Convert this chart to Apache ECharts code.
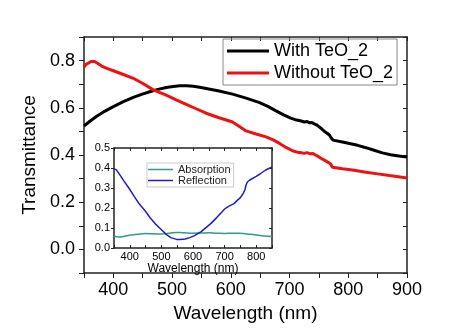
<!doctype html>
<html>
<head>
<meta charset="utf-8">
<title>Transmittance</title>
<style>
  html, body { margin: 0; padding: 0; background: #fff; }
  #main { width: 474px; height: 328px; }
</style>
</head>
<body>
<div id="main"></div>
<script src="https://cdn.jsdelivr.net/npm/echarts@6/dist/echarts.min.js"></script>
<script>
// main plot: transmittance
var wlWith = [350, 360, 371, 385, 400, 417, 434, 448, 462, 476, 490, 502, 513, 525, 536, 547, 558, 580, 603, 626, 649, 663, 677, 690, 702, 712, 720, 725, 730, 734, 738, 742, 746, 750, 755, 760, 764, 768, 771, 774, 790, 802, 816, 830, 844, 858, 872, 886, 900];
var tWith = [0.523, 0.543, 0.563, 0.585, 0.605, 0.626, 0.644, 0.657, 0.668, 0.678, 0.686, 0.690, 0.693, 0.693, 0.691, 0.687, 0.682, 0.671, 0.658, 0.641, 0.622, 0.606, 0.587, 0.570, 0.556, 0.548, 0.544, 0.540, 0.542, 0.536, 0.538, 0.532, 0.528, 0.520, 0.510, 0.499, 0.492, 0.484, 0.472, 0.463, 0.455, 0.449, 0.441, 0.431, 0.420, 0.409, 0.401, 0.396, 0.391];

var wlWithout = [350, 353, 356, 362, 368, 373, 380, 390, 400, 417, 434, 451, 468, 490, 507, 524, 541, 558, 580, 603, 614, 626, 643, 660, 672, 683, 694, 705, 713, 720, 725, 730, 735, 740, 745, 750, 755, 760, 765, 770, 773, 790, 810, 830, 850, 870, 885, 900];
var tWithout = [0.772, 0.783, 0.790, 0.796, 0.796, 0.789, 0.777, 0.766, 0.757, 0.741, 0.725, 0.702, 0.676, 0.654, 0.634, 0.615, 0.596, 0.577, 0.558, 0.540, 0.522, 0.502, 0.489, 0.477, 0.464, 0.449, 0.432, 0.418, 0.412, 0.410, 0.407, 0.410, 0.405, 0.406, 0.399, 0.392, 0.384, 0.377, 0.370, 0.362, 0.348, 0.342, 0.335, 0.327, 0.320, 0.313, 0.308, 0.303];

// inset: absorption / reflection
var wlRefl = [350, 357, 366, 380, 397, 414, 429, 449, 465, 480, 501, 515, 530, 548, 560, 575, 590, 605, 626, 642, 657, 675, 690, 700, 710, 715, 720, 725, 730, 735, 740, 750, 758, 764, 768, 772, 780, 800, 812, 830, 850];
var refl = [0.395, 0.392, 0.372, 0.338, 0.300, 0.258, 0.222, 0.185, 0.150, 0.122, 0.090, 0.068, 0.052, 0.043, 0.042, 0.045, 0.052, 0.062, 0.082, 0.103, 0.123, 0.152, 0.178, 0.195, 0.206, 0.212, 0.214, 0.220, 0.222, 0.230, 0.238, 0.252, 0.270, 0.290, 0.315, 0.330, 0.340, 0.358, 0.370, 0.390, 0.405];

var wlAbs = [350, 365, 380, 400, 425, 450, 475, 500, 525, 548, 570, 600, 625, 650, 675, 700, 725, 745, 770, 800, 825, 850];
var absorp = [0.060, 0.055, 0.058, 0.064, 0.069, 0.072, 0.071, 0.070, 0.074, 0.078, 0.076, 0.074, 0.075, 0.076, 0.074, 0.073, 0.074, 0.074, 0.070, 0.065, 0.060, 0.057];

function pairs(xs, ys) {
  var out = [];
  for (var i = 0; i < xs.length; i++) out.push([xs[i], ys[i]]);
  return out;
}

var font = 'Liberation Sans, Arial, sans-serif';
var frame = { show: true, onZero: false, lineStyle: { color: '#222', width: 1.5 } };

var chart = echarts.init(document.getElementById('main'));

var option = {
  animation: false,
  textStyle: { fontFamily: font, color: '#000' },
  grid: [
    { left: 84, top: 37, width: 323, height: 236 },
    { left: 114, top: 148, width: 158, height: 100, show: true, backgroundColor: '#fff', borderWidth: 0, z: 5 }
  ],
  legend: [
    {
      data: ['With TeO_2', 'Without TeO_2'],
      orient: 'vertical', left: 223, top: 39,
      padding: [3, 4, 3, 4], itemGap: 4,
      icon: 'rect', itemWidth: 42, itemHeight: 3,
      borderColor: '#888', borderWidth: 1,
      textStyle: { fontSize: 18, fontFamily: font, color: '#000' }
    },
    {
      data: ['Absorption', 'Reflection'],
      orient: 'vertical', left: 147, top: 163,
      padding: [1, 3, 1, 1], itemGap: 0,
      icon: 'rect', itemWidth: 25, itemHeight: 1.5,
      borderColor: '#ccc', borderWidth: 1,
      textStyle: { fontSize: 11, fontFamily: font, color: '#222' },
      z: 10
    }
  ],
  xAxis: [
    {
      gridIndex: 0, type: 'value', min: 350, max: 900, interval: 50,
      name: 'Wavelength (nm)', nameLocation: 'middle', nameGap: 29,
      nameTextStyle: { fontSize: 19, fontFamily: font, color: '#000' },
      axisLine: frame,
      axisTick: { show: true, inside: false, length: 5, lineStyle: { color: '#222' } },
      axisLabel: {
        fontSize: 18, margin: 8, color: '#000',
        formatter: function (v) { return v % 100 === 0 ? String(v) : ''; }
      },
      splitLine: { show: false }
    },
    {
      gridIndex: 0, type: 'value', position: 'top', min: 350, max: 900, interval: 50,
      axisLine: frame,
      axisTick: { show: true, inside: true, length: 4, lineStyle: { color: '#222' } },
      axisLabel: { show: false },
      splitLine: { show: false }
    },
    {
      gridIndex: 1, type: 'value', min: 350, max: 850, interval: 50,
      name: 'Wavelength (nm)', nameLocation: 'middle', nameGap: 13,
      nameTextStyle: { fontSize: 12, fontFamily: font, color: '#000' },
      axisLine: frame,
      axisTick: { show: true, inside: true, length: 3, lineStyle: { color: '#222' } },
      axisLabel: {
        fontSize: 11, margin: 3, color: '#000',
        formatter: function (v) { return v % 100 === 0 ? String(v) : ''; }
      },
      splitLine: { show: false },
      z: 6
    },
    {
      gridIndex: 1, type: 'value', position: 'top', min: 350, max: 850, interval: 50,
      axisLine: frame,
      axisTick: { show: true, inside: true, length: 3, lineStyle: { color: '#222' } },
      axisLabel: { show: false },
      splitLine: { show: false },
      z: 6
    }
  ],
  yAxis: [
    {
      gridIndex: 0, type: 'value', min: -0.1, max: 0.9, interval: 0.1,
      name: 'Transmittance', nameLocation: 'middle', nameGap: 45,
      nameTextStyle: { fontSize: 19, fontFamily: font, color: '#000' },
      axisLine: frame,
      axisTick: { show: true, inside: false, length: 5, lineStyle: { color: '#222' } },
      axisLabel: {
        fontSize: 18, margin: 9, color: '#000',
        formatter: function (v) {
          var k = Math.round(v * 10);
          return (k >= 0 && k % 2 === 0) ? (k / 10).toFixed(1) : '';
        }
      },
      splitLine: { show: false }
    },
    {
      gridIndex: 0, type: 'value', position: 'right', min: -0.1, max: 0.9, interval: 0.1,
      axisLine: frame,
      axisTick: { show: true, inside: true, length: 4, lineStyle: { color: '#222' } },
      axisLabel: { show: false },
      splitLine: { show: false }
    },
    {
      gridIndex: 1, type: 'value', min: 0, max: 0.5, interval: 0.1,
      axisLine: frame,
      axisTick: { show: true, inside: false, length: 3, lineStyle: { color: '#222' } },
      axisLabel: {
        fontSize: 11, margin: 4, color: '#000',
        formatter: function (v) { return v.toFixed(1); }
      },
      splitLine: { show: false },
      z: 6
    },
    {
      gridIndex: 1, type: 'value', position: 'right', min: 0, max: 0.5, interval: 0.1,
      axisLine: frame,
      axisTick: { show: true, inside: true, length: 3, lineStyle: { color: '#222' } },
      axisLabel: { show: false },
      splitLine: { show: false },
      z: 6
    }
  ],
  series: [
    {
      name: 'With TeO_2', type: 'line', xAxisIndex: 0, yAxisIndex: 0,
      data: pairs(wlWith, tWith), showSymbol: false, symbol: 'none',
      lineStyle: { color: '#000', width: 3 }, itemStyle: { color: '#000' }
    },
    {
      name: 'Without TeO_2', type: 'line', xAxisIndex: 0, yAxisIndex: 0,
      data: pairs(wlWithout, tWithout), showSymbol: false, symbol: 'none',
      lineStyle: { color: '#ee1111', width: 3 }, itemStyle: { color: '#ee1111' }
    },
    {
      name: 'Absorption', type: 'line', xAxisIndex: 2, yAxisIndex: 2, smooth: true,
      data: pairs(wlAbs, absorp), showSymbol: false, symbol: 'none', z: 7,
      lineStyle: { color: '#2e9a90', width: 1.5 }, itemStyle: { color: '#2e9a90' }
    },
    {
      name: 'Reflection', type: 'line', xAxisIndex: 2, yAxisIndex: 2,
      data: pairs(wlRefl, refl), showSymbol: false, symbol: 'none', z: 7,
      lineStyle: { color: '#1c1cd0', width: 1.5 }, itemStyle: { color: '#1c1cd0' }
    }
  ]
};

chart.setOption(option);
</script>
</body>
</html>
